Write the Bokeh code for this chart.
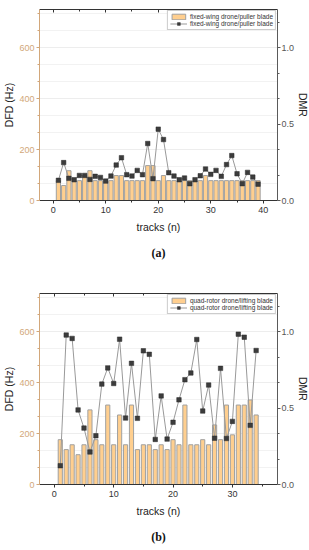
from bokeh.plotting import figure
from bokeh.layouts import column
from bokeh.models import (LinearAxis, Range1d, SingleIntervalTicker, PrintfTickFormatter,
                          Legend, LegendItem, Title, ColumnDataSource)
from bokeh.embed import file_html
from bokeh.resources import INLINE

# ---- data ----
a_label = "fixed-wing drone/puller blade"
a_tracks = list(range(1, 40))
a_dfd = [78, 59, 117, 78, 78, 98, 117, 78, 78, 78,
         78, 98, 98, 78, 78, 78, 78, 137, 137, 78,
         98, 78, 78, 78, 78, 78, 78, 78, 98, 78,
         78, 78, 78, 78, 78, 78, 78, 78, 78]
a_dmr = [0.132, 0.248, 0.145, 0.136, 0.164, 0.164, 0.138, 0.158, 0.151, 0.127,
         0.160, 0.232, 0.280, 0.169, 0.160, 0.197, 0.169, 0.373, 0.143, 0.467,
         0.399, 0.182, 0.160, 0.136, 0.147, 0.110, 0.136, 0.162, 0.206, 0.171,
         0.197, 0.158, 0.235, 0.294, 0.175, 0.110, 0.184, 0.153, 0.107]

b_label = "quad-rotor drone/lifting blade"
b_tracks = list(range(1, 35))
b_dfd = [176, 137, 156, 117, 156, 293, 176, 156, 312, 156,
         273, 156, 312, 137, 156, 156, 137, 156, 137, 176,
         156, 312, 156, 156, 176, 156, 234, 176, 312, 195,
         312, 312, 332, 273]
b_dmr = [0.123, 0.978, 0.956, 0.488, 0.369, 0.213, 0.319, 0.657, 0.763, 0.661,
         0.951, 0.435, 0.793, 0.433, 0.875, 0.852, 0.295, 0.580, 0.297, 0.407,
         0.554, 0.686, 0.730, 0.949, 0.481, 0.651, 0.303, 0.760, 0.301, 0.413,
         0.984, 0.964, 0.387, 0.877]

FONT = "Liberation Sans"
TAN = "#D2A77A"
BAR_FILL = "#FFCF8F"
BAR_LINE = "#A0A0A0"


def make_panel(tracks, dfd, dmr, label, xr, tag, top_border, bottom_border, bar_w):
    p = figure(frame_width=238, frame_height=191, output_backend="svg",
               toolbar_location=None,
               x_range=Range1d(*xr), y_range=Range1d(0, 750),
               min_border_left=0, min_border_right=0, min_border_top=top_border,
               min_border_bottom=bottom_border)
    p.outline_line_color = None
    p.background_fill_color = "white"
    p.extra_y_ranges = {"dmr": Range1d(0, 1.25)}

    src = ColumnDataSource(dict(x=tracks, dfd=dfd, dmr=dmr))
    bars = p.vbar(x="x", top="dfd", width=bar_w, source=src,
                  fill_color=BAR_FILL, line_color=BAR_LINE, line_width=1)
    ln = p.line(x="x", y="dmr", source=src, y_range_name="dmr",
                line_color="#999999", line_width=1)
    sc = p.scatter(x="x", y="dmr", source=src, y_range_name="dmr", marker="square",
                   size=4.5, fill_color="#3C3C3C", line_color="#2A2A2A", line_width=0.5)

    # left axis
    ly = p.yaxis[0]
    ly.ticker = SingleIntervalTicker(interval=200, num_minor_ticks=3)
    ly.axis_line_color = TAN
    ly.major_tick_line_color = TAN
    ly.minor_tick_line_color = TAN
    ly.major_label_text_color = TAN
    ly.major_label_text_font = FONT
    ly.major_label_text_font_size = "9px"
    ly.major_tick_in = 0
    ly.major_tick_out = 3
    ly.minor_tick_in = 0
    ly.minor_tick_out = 2
    ly.major_label_standoff = 2
    ly.axis_label = "DFD (Hz)"
    ly.axis_label_text_font = FONT
    ly.axis_label_text_font_size = "10.5px"
    ly.axis_label_text_font_style = "normal"
    ly.axis_label_text_color = "#222222"
    ly.axis_label_standoff = 1

    # right axis
    ry = LinearAxis(y_range_name="dmr",
                    ticker=SingleIntervalTicker(interval=0.5, num_minor_ticks=3),
                    formatter=PrintfTickFormatter(format="%.1f"))
    ry.axis_line_color = "#5A5A5A"
    ry.major_tick_line_color = "#5A5A5A"
    ry.minor_tick_line_color = "#5A5A5A"
    ry.major_label_text_color = "#555555"
    ry.major_label_text_font = FONT
    ry.major_label_text_font_size = "9px"
    ry.major_tick_in = 0
    ry.major_tick_out = 3
    ry.minor_tick_in = 0
    ry.minor_tick_out = 2
    ry.major_label_standoff = 1
    ry.axis_label = "DMR"
    ry.axis_label_text_font = FONT
    ry.axis_label_text_font_size = "10.5px"
    ry.axis_label_text_font_style = "normal"
    ry.axis_label_text_color = "#222222"
    ry.axis_label_standoff = 0
    p.add_layout(ry, "right")

    # bottom axis
    bx = p.xaxis[0]
    bx.ticker = SingleIntervalTicker(interval=10, num_minor_ticks=2)
    bx.axis_line_color = "#333333"
    bx.major_tick_line_color = "#333333"
    bx.minor_tick_line_color = "#333333"
    bx.major_tick_in = 0
    bx.major_tick_out = 3
    bx.minor_tick_in = 0
    bx.minor_tick_out = 2
    bx.major_label_text_font = FONT
    bx.major_label_text_font_size = "9px"
    bx.major_label_text_color = "#333333"
    bx.major_label_standoff = 3
    bx.axis_label = "tracks (n)"
    bx.axis_label_text_font = FONT
    bx.axis_label_text_font_size = "10.5px"
    bx.axis_label_text_font_style = "normal"
    bx.axis_label_text_color = "#222222"
    bx.axis_label_standoff = 5

    # top mirror axis (ticks only, labels not drawn)
    tx = LinearAxis(ticker=SingleIntervalTicker(interval=10, num_minor_ticks=2))
    tx.axis_line_color = "#333333"
    tx.major_tick_line_color = "#333333"
    tx.minor_tick_line_color = "#333333"
    tx.major_tick_in = 3
    tx.major_tick_out = 0
    tx.minor_tick_in = 2
    tx.minor_tick_out = 0
    tx.major_label_text_font_size = "1px"
    tx.major_label_text_color = None
    tx.major_label_standoff = 0
    p.add_layout(tx, "above")

    # grid
    p.xgrid.grid_line_color = None
    p.ygrid.ticker = ly.ticker
    p.ygrid.grid_line_color = "#EDEDED"
    p.ygrid.minor_grid_line_color = "#F2F2F2"

    legend = Legend(items=[LegendItem(label=label, renderers=[bars]),
                           LegendItem(label=label, renderers=[ln, sc])],
                    location="top_right", margin=1, padding=2, spacing=0,
                    glyph_width=17, glyph_height=7, label_height=7,
                    label_standoff=3, label_text_font=FONT,
                    label_text_font_size="6.5px", label_text_color="#333333",
                    border_line_color="#999999", background_fill_alpha=1.0)
    p.add_layout(legend)

    t = Title(text=tag, align="center", text_font="Liberation Serif",
              text_font_style="bold", text_font_size="12px", text_color="#111111",
              standoff=17)
    p.add_layout(t, "below")
    return p


pa = make_panel(a_tracks, a_dfd, a_dmr, a_label, (-2.6, 42.7), "(a)", 9, 78, 0.8)
pb = make_panel(b_tracks, b_dfd, b_dmr, b_label, (-2.5, 37.6), "(b)", 15, 58, 0.7)

layout = column(pa, pb, spacing=0)
open("out.html", "w").write(file_html(layout, INLINE))
